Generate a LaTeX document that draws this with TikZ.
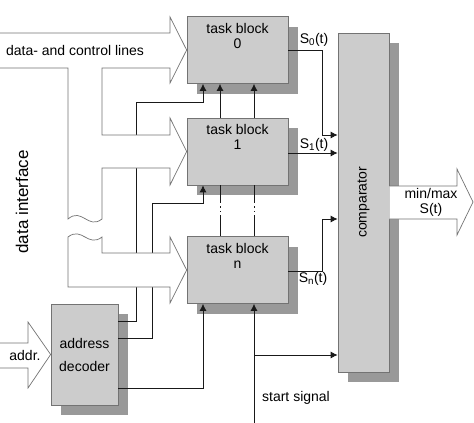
\documentclass[tikz,border=0pt]{standalone}
\usepackage{fontspec}
\setmainfont{Liberation Sans}
\usepackage{graphicx}
\usetikzlibrary{arrows.meta,shadows}
\definecolor{blockgrey}{gray}{0.8}
\definecolor{shadowgrey}{gray}{0.6}
\definecolor{edgegrey}{gray}{0.45}

\begin{document}
\begin{tikzpicture} [
    x = 1pt, y = -1pt,
    >={Latex[length=7pt,width=7pt]},
    every node/.style={font=\fontsize{14}{15}\selectfont},
    block/.style={draw=edgegrey, fill=blockgrey, line width=0.7pt, inner sep=0,
        drop shadow={shadow xshift=10pt,shadow yshift=-10pt,fill=shadowgrey,opacity=1}},
    tblock/.style={block, minimum width=101pt, minimum height=67pt,
        label={[anchor=north,align=center,inner sep=7pt]north:{task block\\#1}}},
    wire/.style={draw=black!90, line width=0.8pt},
    bus/.style={draw=edgegrey, line width=0.7pt, fill=white},
    gap/.style={dash pattern=on 18pt off 3pt on 1.5pt off 3pt on 1.5pt off 3pt on 30pt}
    ]

    \useasboundingbox (0,0) rectangle (474,423);

    \node [tblock=0] (b0) at (237.5,50) {};
    \node [tblock=1] (b1) at (237.5,151.5) {};
    \node [tblock=n] (bn) at (237.5,270) {};
    \node [block, minimum width=51pt, minimum height=339pt] (comp) at (363.5,202.5) {\rotatebox{90}{comparator}};
    \node [block, minimum width=67pt, minimum height=101pt, align=center] (dec) at (84.5,354.5) {address\\[8pt]decoder};

    \draw [wire, ->] (dec.east |- 0,321) -| (136,102) -| (b0.south -| 203,0);
    \draw [wire, ->] (dec.east |- 0,338) -| (152,203) -| (b1.south -| 203,0);
    \draw [wire, ->] (dec.east |- 0,388) -| (bn.south -| 203,0);

    \foreach \x in {220,254} {
        \draw [wire, ->] (b1.north -| \x,0) -- (b0.south -| \x,0);
        \draw [wire, gap] (b1.south -| \x,0) -- (bn.north -| \x,0);
    }

    \coordinate (start) at (254,423);
    \coordinate (fork) at (254,355);
    \draw [wire, ->] (start) -- (bn.south -| start);
    \draw [wire, ->] (fork) -- (comp.west |- fork);

    \draw [wire, ->] (b0.east |- 0,50) -| (322,135) -- (comp.west |- 0,135);
    \draw [wire, ->] (b1.east |- 0,153) -- (comp.west |- 0,153);
    \draw [wire, ->] (bn.east |- 0,271) -| (322,219) -- (comp.west |- 0,219);

    \draw [bus] (0,33) -- (170,33) -- (170,17) -- (b0.west) -- (170,83) -- (170,68) -- (102,68)
        -- (102,135) -- (170,135) -- (170,118) -- (b1.west) -- (170,185) -- (170,168) -- (102,168)
        -- (102,219) .. controls (88,230) and (82,207) .. (68,219) -- (68,68) -- (0,68);
    \draw [bus] (68,237) .. controls (82,226) and (88,248) .. (102,237) -- (102,253) -- (170,253)
        -- (170,237) -- (bn.west) -- (170,303) -- (170,287) -- (68,287) -- cycle;
    \draw [bus] (0,343) -- (28,343) -- (28,322) -- (dec.west) -- (28,388) -- (28,368) -- (0,368);
    \draw [bus] (comp.east |- 0,186) -- (457,186) -- (457,169) -- (473,202) -- (457,235) -- (457,219) -- (comp.east |- 0,219);

    \node (dcl) at (75,50) {data- and control lines};
    \node [rotate=90, font=\fontsize{17}{18}\selectfont] (di) at (22,202) {data interface};
    \node (addr) at (25,355) {addr.};
    \node [align=center] (mm) at (431,202) {min/max\\S(t)};
    \node (st) at (296,398) {start signal};
    \node (s0) at (314,40) {S\textsubscript{0}(t)};
    \node (s1) at (314,145) {S\textsubscript{1}(t)};
    \node (sn) at (313,279) {S\textsubscript{n}(t)};

    \end{tikzpicture}
\end{document}
